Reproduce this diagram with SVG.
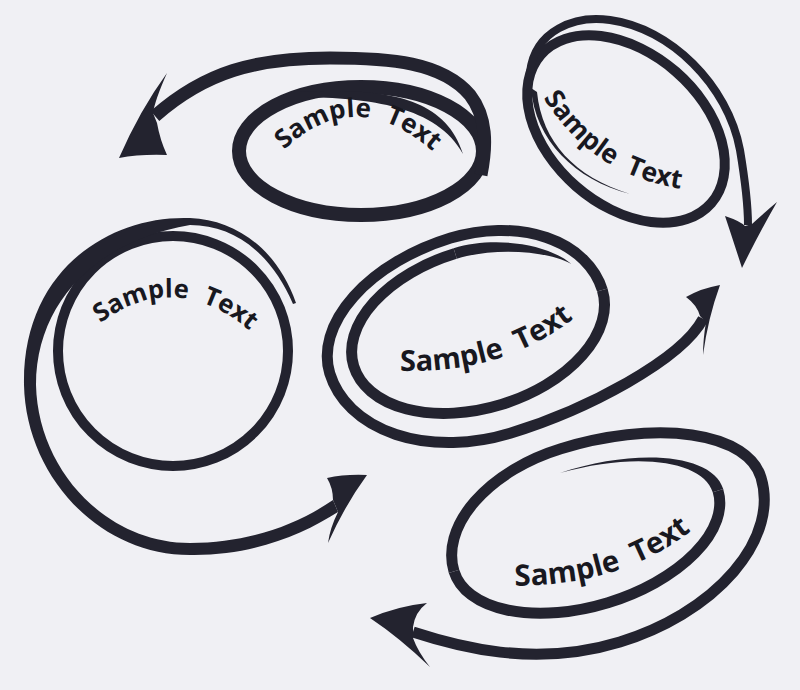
<svg xmlns="http://www.w3.org/2000/svg" width="800" height="690" viewBox="0 0 800 690">
<style>
.bg{fill:#f0f0f4}
.ln{fill:none;stroke:#23232f;stroke-linecap:butt}
.fl{fill:#23232f;stroke:none}
.tx{font-family:"Open Sans","Noto Sans","DejaVu Sans",sans-serif;font-weight:700;font-size:26px;fill:#18181f;word-spacing:8px}
</style>
<defs>
<path id="tp1" d="M 282 152 Q 358 78 442 160"/>
<path id="tp2" d="M 540 93 C 570 140 610 180 690 190"/>
<path id="tp3" d="M 94 328 Q 176 262 258 338"/>
<path id="tp4" d="M 398 371 C 460 372 525 362 586 308"/>
<path id="tp5" d="M 513 586 C 570 585 640 576 702 522"/>
</defs>
<rect class="bg" x="0" y="0" width="800" height="690"/>

<g id="node-top">
<ellipse class="ln" cx="361" cy="151" rx="122" ry="64" stroke-width="14"/>
<path class="fl" d="M 300 92 C 380 88 445 95 463 154 C 437 106 370 98 300 97 Z"/>
<text class="tx"><textPath href="#tp1" startOffset="3">Sample Text</textPath></text>
</g>

<g id="node-topright">
<ellipse class="ln" cx="0" cy="0" rx="113" ry="76" stroke-width="10" transform="translate(626 129) rotate(41)"/>
<path class="fl" d="M 531 88 C 535 140 575 180 630 194 C 575 177 542 142 537 92 Z"/>
<text class="tx" style="font-size:26.5px"><textPath href="#tp2" startOffset="6">Sample Text</textPath></text>
</g>

<g id="node-left">
<circle class="ln" cx="173" cy="351" r="115" stroke-width="10"/>
<text class="tx" style="font-size:25.5px"><textPath href="#tp3" startOffset="8">Sample Text</textPath></text>
</g>

<g id="node-center">
<g transform="translate(478 328) rotate(-17)">
<path class="fl" d="M 108 -34 C 90 -62 40 -83.5 0 -83.5 L 0 -72.5 C 40 -72.5 88 -54 108 -34 Z"/>
<path class="ln" stroke-width="11" d="M 0 -78 A 130 78 0 0 0 -130 0 A 130 80 0 0 0 0 80 A 130 80 0 0 0 130 0"/>
</g>
<text class="tx" style="font-size:29px"><textPath href="#tp4" startOffset="2">Sample Text</textPath></text>
</g>

<g id="node-bottom">
<g transform="translate(586 531) rotate(-17)">
<path class="fl" d="M -8 -63 C 72 -65 143.5 -37 143.5 0 L 132.5 0 C 132.5 -33 72 -61.5 -8 -63 Z"/>
<path class="ln" stroke-width="11" d="M 138 0 A 138 75 0 0 1 0 75 A 138 75 0 0 1 -138 0"/>
</g>
<text class="tx" style="font-size:29.5px"><textPath href="#tp5" startOffset="2">Sample Text</textPath></text>
</g>

<g id="connectors">
<path class="ln" stroke-width="13" d="M 481 175 C 487 145 487 117 470 95 C 442 62 390 58 330 58 C 255 58 205 72 155 116"/>
<path class="fl" d="M 119 158 Q 140 110 167 73 Q 155 100 153 113 L 157 123 Q 160 140 167 155 Q 140 154 119 158 Z"/>
<path class="ln" stroke-width="8" d="M 530 72 C 535 30 575 15 610 20 C 670 28 728 85 740 150 C 745 180 748 205 748 225"/>
<path class="fl" d="M 742 268 Q 733 240 725 216 Q 740 221 745 226 L 752 224 Q 765 212 777 202 Q 758 235 742 268 Z"/>
<path class="fl" d="M 296 303 C 278 251 238 220 190 218 C 110 215 22 270 24 385 C 26 475 98 555 190 555 C 252 556 302 535 338 512 L 333 500 C 298 524 250 543 190 543 C 106 543 38 470 36 385 C 36 300 100 240 190 225 C 236 225 272 255 293 304 Z"/>
<path class="fl" d="M 367 475 Q 345 474 327 478 Q 333 488 333 500 L 338 512 Q 330 528 328 543 Q 345 505 367 475 Z"/>
<path class="ln" stroke-width="11" transform="translate(478 328) rotate(-17)" d="M 130 0 A 130 94 0 0 0 0 -94 A 155 94 0 0 0 -155 0 A 155 110 0 0 0 0 110 C 80 110 185 90 218 57"/>
<path class="fl" d="M 720 285 Q 702 288 686 297 Q 697 305 700 316 L 706 322 Q 703 340 703 355 Q 708 318 720 285 Z"/>
<path class="ln" stroke-width="11" transform="translate(586 531) rotate(-17)" d="M -138 0 A 138 86 0 0 1 0 -86 A 183 86 0 0 1 183 0 A 183 116 0 0 1 0 116 C -90 116 -158 72 -195 46"/>
<path class="fl" d="M 370 618 Q 398 606 427 603 Q 415 612 413 627 L 413 638 Q 418 652 430 667 Q 400 638 370 618 Z"/>
</g>
</svg>
